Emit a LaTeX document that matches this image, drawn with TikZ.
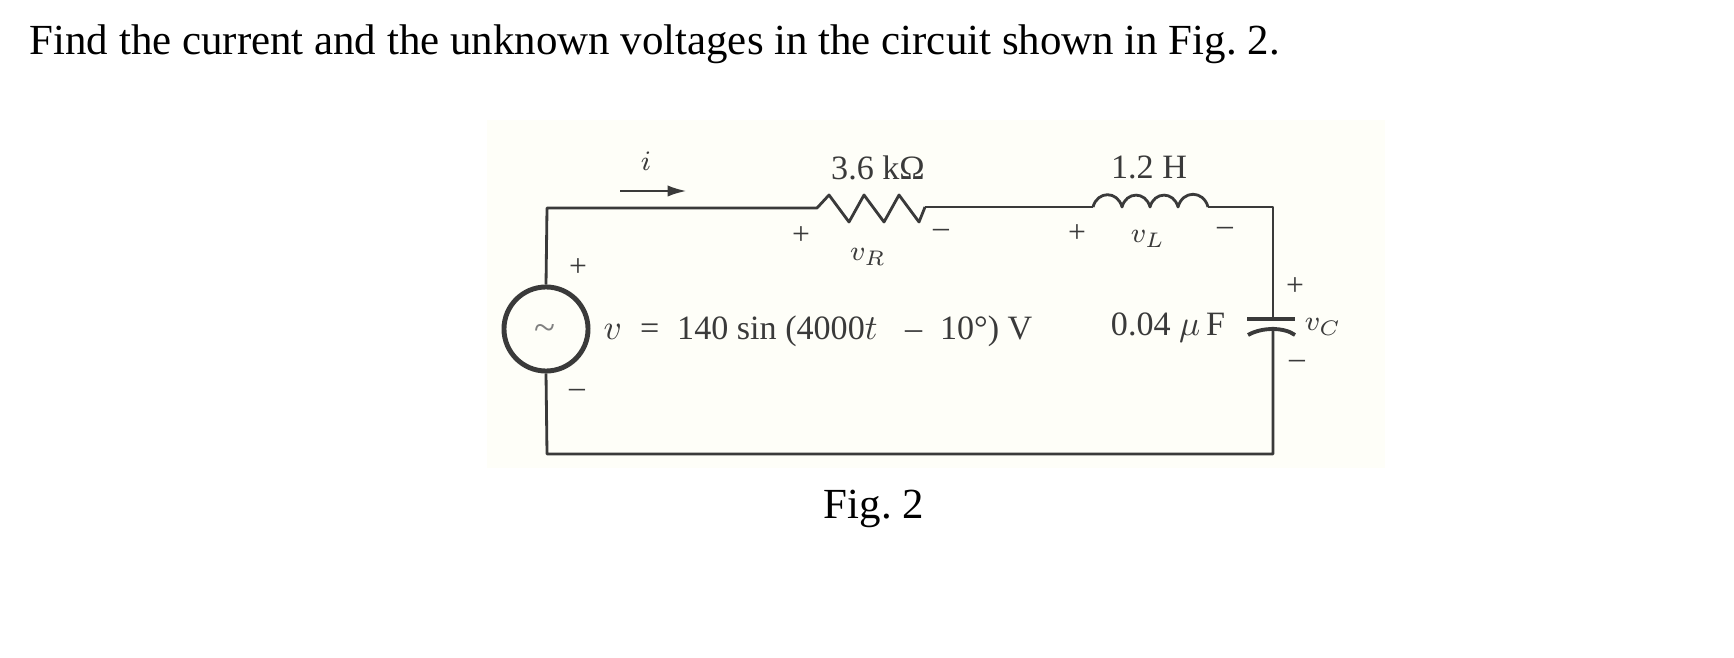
\documentclass[tikz,border=0pt]{standalone}
\usepackage{fontspec}
\setmainfont{Liberation Serif}
\usetikzlibrary{calc}
\usetikzlibrary{arrows.meta}
\definecolor{papel}{HTML}{FEFEF8}
\definecolor{tinta}{HTML}{3A3A3A}
\tikzset{
	wire/.style= {tinta, line width= 0.8pt, line join= round},
	sign/.style= {text= tinta, inner sep= 0pt, font= \fontsize{9}{10}\selectfont},
	label/.style= {text= tinta, inner sep= 0pt, font= \fontsize{9.7}{11}\selectfont},
	volt/.style= {text= tinta, inner sep= 0pt, font= \fontsize{8}{9}\selectfont},
	caption/.style= {text= black, inner sep= 0pt, font= \frenchspacing\fontsize{12.2}{14}\selectfont}
}

\begin{document}
\begin{tikzpicture}[x= 0.01cm, y= -0.01cm]
	\useasboundingbox (0,0) rectangle (1734,658);
	\fill [white] (0,0) rectangle (1734,658);
	\fill [papel] (487,120) rectangle (1385,468);

	\node [caption, anchor= west] (title) at (29,44) {Find the current and the unknown voltages in the circuit shown in Fig. 2.};
	\node [caption] (figure) at (874,509) {Fig. 2};

	% fuente
	\node [draw= tinta, circle, line width= 1.4pt, minimum size= 0.84cm, inner sep= 0pt] (source) at (546,329) {};
	\node [text= gray, inner sep= 0pt, font= \fontsize{11}{11}\selectfont] (tilde) at (545,333) {\textasciitilde};

	% esquinas
	\coordinate (topleft) at (547,208);
	\coordinate (botleft) at (547,454);
	\coordinate (topright) at (1273,207);
	\coordinate (botright) at (1273,454);

	% resistor
	\coordinate (resin) at (817,208);
	\coordinate (resout) at (925,207);
	\draw [wire] (source.north) -- (topleft) -- (resin)
		-- ++(12,-13) -- ++(20,27) -- ++(15,-27) -- ++(20,27) -- ++(15,-27) -- ++(20,27) -- (resout);

	% bobina
	\coordinate (coilin) at (1093,207);
	\coordinate (coila) at (1122,207);
	\coordinate (coilb) at (1150,207);
	\coordinate (coilc) at (1178,207);
	\coordinate (coilout) at (1208,207);
	\draw [wire] (resout) -- (coilin);
	\draw [wire] (coilin) to [out= 75, in= 105, looseness= 1.5] (coila)
		to [out= 75, in= 105, looseness= 1.5] (coilb)
		to [out= 75, in= 105, looseness= 1.5] (coilc)
		to [out= 75, in= 105, looseness= 1.5] (coilout);

	% condensador
	\coordinate (plate) at (1273,319);
	\coordinate (platel) at (1247,319);
	\coordinate (plater) at (1295,319);
	\coordinate (curve) at (1273,327);
	\coordinate (curvel) at (1248,335);
	\coordinate (curver) at (1295,335);
	\draw [wire] (coilout) -- (topright) -- (plate);
	\draw [wire, line width= 1.1pt] (platel) -- (plater);
	\draw [wire, line width= 1.1pt] (curvel) .. controls (1262,327) and (1284,327) .. (curver);
	\draw [wire] (curve) -- (botright) -- (botleft) -- (source.south);

	% corriente
	\coordinate (arrowtail) at (620,191);
	\coordinate (arrowhead) at (687,191);
	\draw [wire, arrows= -{Latex[length= 5.5pt, width= 3.2pt]}] (arrowtail) -- (arrowhead);
	\node [volt] (current) at (646,161) {$i$};

	% valores
	\node [label] (resvalue) at (878,168) {3.6 kΩ};
	\node [label] (coilvalue) at (1149,167) {1.2 H};
	\node [label] (capvalue) at (1168,328) {0.04 $\mu$\,F};
	\node [label, anchor= west] (equation) at (603,331) {$v$ \;=\; 140 sin (4000$t$ \;\;–\; 10°) V};

	% tensiones
	\node [volt] (vr) at (868,257) {$v_R$};
	\node [volt] (vl) at (1148,239) {$v_L$};
	\node [volt] (vc) at (1323,327) {$v_C$};

	% signos
	\node [sign] (srcplus) at (578,268) {+};
	\node [sign] (srcminus) at (577,393) {–};
	\node [sign] (resplus) at (801,236) {+};
	\node [sign] (resminus) at (941,233) {–};
	\node [sign] (coilplus) at (1077,234) {+};
	\node [sign] (coilminus) at (1225,231) {–};
	\node [sign] (capplus) at (1295,287) {+};
	\node [sign] (capminus) at (1297,364) {–};
\end{tikzpicture}
\end{document}
